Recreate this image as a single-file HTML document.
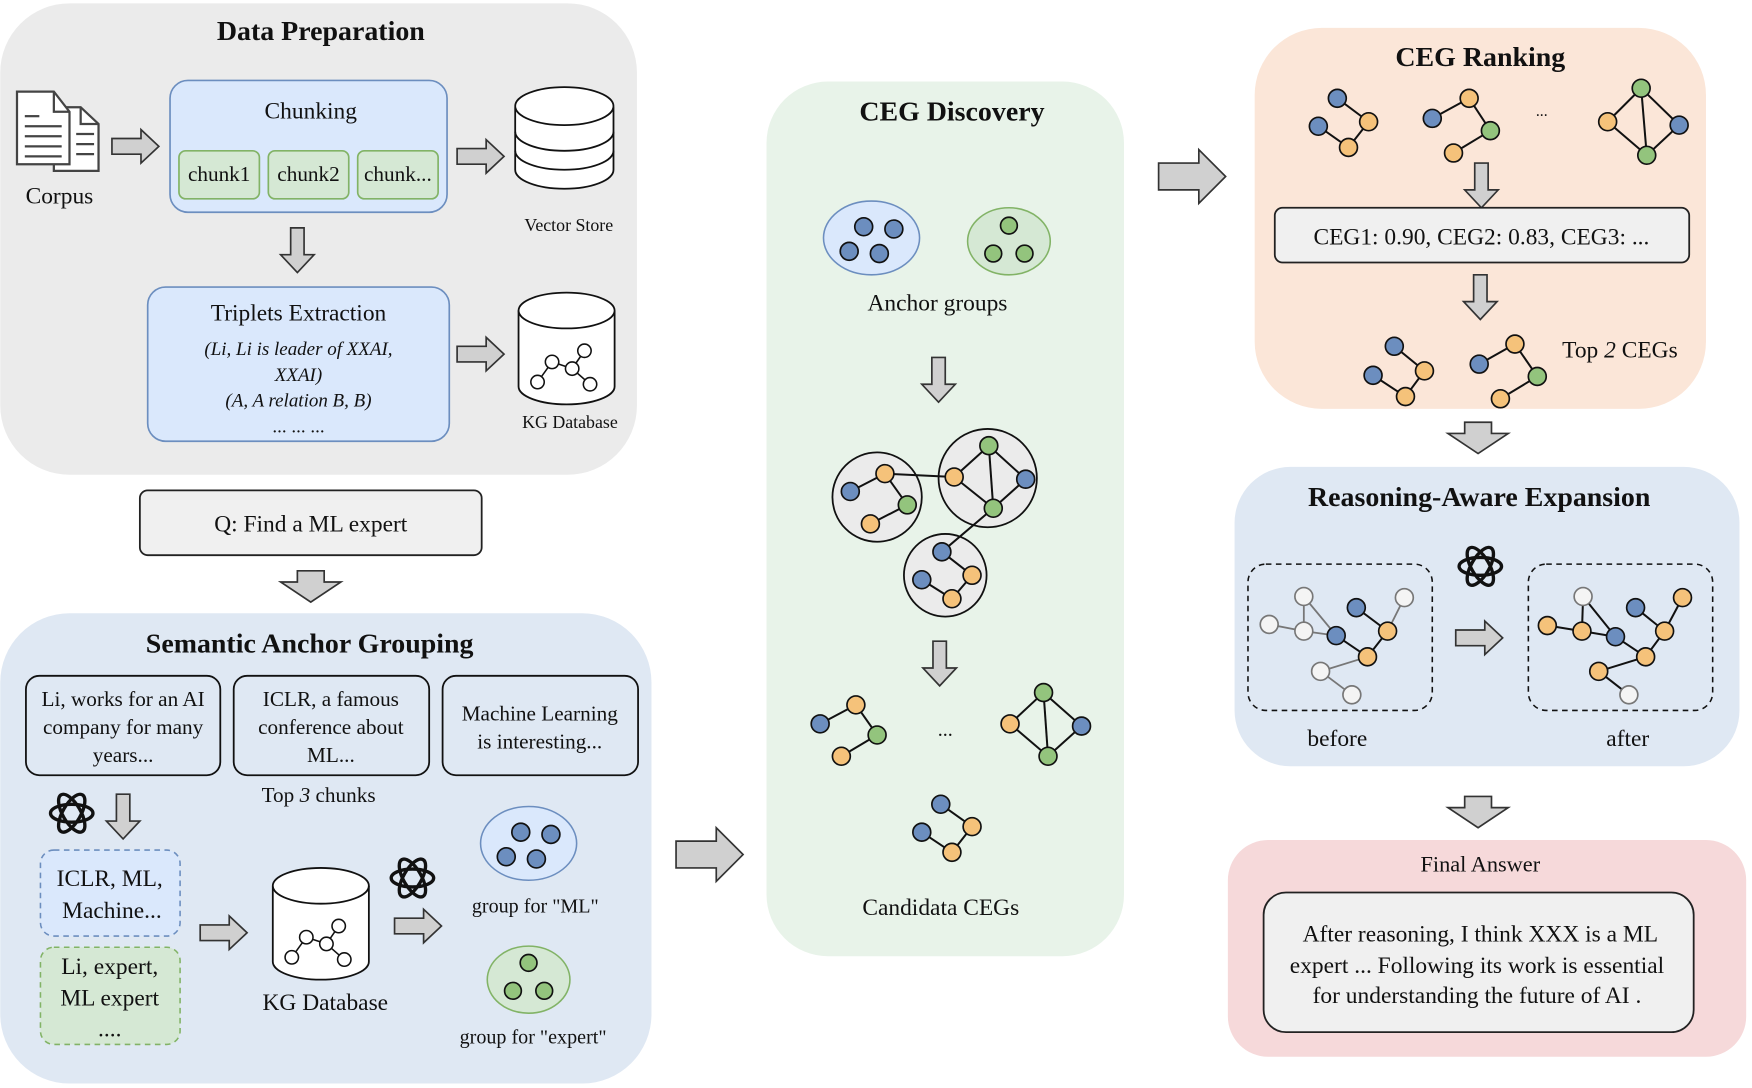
<!DOCTYPE html>
<html><head><meta charset="utf-8"><style>
html,body{margin:0;padding:0;background:#fff;}
svg{display:block;}
text{font-family:"Liberation Serif",serif;fill:#111;}
.t{font-weight:bold;font-size:25px;}
.ar{fill:#d0d0d0;stroke:#333;stroke-width:1.5;}
.e{stroke:#111;stroke-width:1.8;}
.b{fill:#6c8ebf;stroke:#111;stroke-width:1.5;}
.o{fill:#f5c27a;stroke:#111;stroke-width:1.5;}
.g{fill:#93c47d;stroke:#111;stroke-width:1.5;}
.w{fill:#f4f4f4;stroke:#777;stroke-width:1.5;}
.gp{fill:none;stroke:#111;stroke-width:3;}
</style></head><body>
<svg width="1752" height="1088" viewBox="0 0 1568 974" xmlns="http://www.w3.org/2000/svg">
<defs>
<g id="gpt"><ellipse class="gp" cx="0" cy="0" rx="19" ry="8"/><ellipse class="gp" cx="0" cy="0" rx="19" ry="8" transform="rotate(60)"/><ellipse class="gp" cx="0" cy="0" rx="19" ry="8" transform="rotate(120)"/></g>
<g id="ra"><path class="ar" d="M0,-7 L26,-7 L26,-15 L42,0 L26,15 L26,7 L0,7 Z"/></g>
<g id="da"><path class="ar" d="M-6,0 L6,0 L6,24 L15,24 L0,40 L-15,24 L-6,24 Z"/></g>
<g id="wa"><path class="ar" d="M-12,0 L12,0 L12,10 L27,10 L0,28 L-27,10 L-12,10 Z"/></g>
<g id="ba"><path class="ar" d="M0,-12 L36,-12 L36,-24 L60,0 L36,24 L36,12 L0,12 Z"/></g>
<g id="kg">
<path d="M0,16 L0,84 A43,16 0 0 0 86,84 L86,16" fill="#fff" stroke="#111" stroke-width="1.6"/>
<ellipse cx="43" cy="16" rx="43" ry="16" fill="#fff" stroke="#111" stroke-width="1.6"/>
<g stroke="#111" stroke-width="1.4" fill="#fff"><line x1="17" y1="80" x2="30" y2="62"/><line x1="30" y1="62" x2="48" y2="68"/><line x1="48" y1="68" x2="59" y2="52"/><line x1="48" y1="68" x2="64" y2="82"/>
<circle cx="17" cy="80" r="6"/><circle cx="30" cy="62" r="6"/><circle cx="48" cy="68" r="6"/><circle cx="59" cy="52" r="6"/><circle cx="64" cy="82" r="6"/></g>
</g>
</defs>

<!-- Data Preparation -->
<rect x="0" y="3" width="570" height="422" rx="62" fill="#ebebeb"/>
<text class="t" x="287" y="36" text-anchor="middle">Data Preparation</text>
<g fill="#fff" stroke="#444" stroke-width="2">
<path d="M48,96 L48,153 L88,153 L88,111 L72,96 Z"/>
<path d="M15,82 L15,147 L62,147 L62,100 L48,82 Z"/>
<path d="M48,82 L48,100 L62,100" fill="none"/>
<path d="M72,96 L72,111 L88,111" fill="none"/>
</g>
<g stroke="#444" stroke-width="2"><line x1="22" y1="104" x2="35" y2="104"/><line x1="22" y1="113" x2="55" y2="113"/><line x1="22" y1="122" x2="55" y2="122"/><line x1="22" y1="131" x2="55" y2="131"/><line x1="22" y1="140" x2="55" y2="140"/><line x1="68" y1="120" x2="84" y2="120"/><line x1="68" y1="129" x2="84" y2="129"/><line x1="68" y1="138" x2="84" y2="138"/></g>
<text x="53" y="182" font-size="21" text-anchor="middle">Corpus</text>
<use href="#ra" x="100" y="131"/>
<rect x="152" y="72" width="248" height="118" rx="16" fill="#dae8fc" stroke="#6c8ebf" stroke-width="1.5"/>
<text x="278" y="106" font-size="21" text-anchor="middle">Chunking</text>
<g fill="#d5e8d4" stroke="#82b366" stroke-width="1.5"><rect x="160" y="135" width="72" height="43" rx="6"/><rect x="240" y="135" width="72" height="43" rx="6"/><rect x="320" y="135" width="72" height="43" rx="6"/></g>
<g font-size="19" text-anchor="middle"><text x="196" y="162">chunk1</text><text x="276" y="162">chunk2</text><text x="356" y="162">chunk...</text></g>
<use href="#ra" x="409" y="140"/>
<g fill="#fff" stroke="#111" stroke-width="1.6">
<path d="M461,96 L461,152 A44,17 0 0 0 549,152 L549,96"/>
<path d="M461,135 A44,17 0 0 0 549,135" fill="none"/>
<path d="M461,118 A44,17 0 0 0 549,118" fill="none"/>
<ellipse cx="505" cy="95" rx="44" ry="17"/>
</g>
<text x="509" y="207" font-size="16" text-anchor="middle">Vector Store</text>
<use href="#da" x="266" y="204"/>
<rect x="132" y="257" width="270" height="138" rx="16" fill="#dae8fc" stroke="#6c8ebf" stroke-width="1.5"/>
<text x="267" y="287" font-size="21" text-anchor="middle">Triplets Extraction</text>
<g font-size="17" font-style="italic" text-anchor="middle"><text x="267" y="318">(Li, Li is leader of XXAI,</text><text x="267" y="341">XXAI)</text><text x="267" y="364">(A, A relation B, B)</text><text x="267" y="387" font-style="normal">... ... ...</text></g>
<use href="#ra" x="409" y="317"/>
<use href="#kg" x="464" y="262"/>
<text x="510" y="383" font-size="16" text-anchor="middle">KG Database</text>

<!-- Query -->
<rect x="125" y="439" width="306" height="58" rx="7" fill="#f0f0f0" stroke="#222" stroke-width="1.6"/>
<text x="278" y="476" font-size="21" text-anchor="middle">Q: Find a ML expert</text>
<use href="#wa" x="278" y="511"/>

<!-- Semantic Anchor Grouping -->
<rect x="0" y="549" width="583" height="421" rx="62" fill="#dfe8f3"/>
<text class="t" x="277" y="584" text-anchor="middle">Semantic Anchor Grouping</text>
<g fill="none" stroke="#111" stroke-width="1.6"><rect x="23" y="605" width="174" height="89" rx="12"/><rect x="209" y="605" width="175" height="89" rx="12"/><rect x="396" y="605" width="175" height="89" rx="12"/></g>
<g font-size="19" text-anchor="middle">
<text x="110" y="632">Li, works for an AI</text><text x="110" y="657">company for many</text><text x="110" y="682">years...</text>
<text x="296" y="632">ICLR, a famous</text><text x="296" y="657">conference about</text><text x="296" y="682">ML...</text>
<text x="483" y="645">Machine Learning</text><text x="483" y="670">is  interesting...</text>
<text x="285" y="718">Top <tspan font-style="italic">3</tspan> chunks</text>
</g>
<use href="#gpt" x="64" y="728"/>
<use href="#da" x="110" y="711"/>
<rect x="36" y="761" width="125" height="77" rx="12" fill="#dae8fc" stroke="#6c8ebf" stroke-width="1.4" stroke-dasharray="5,4"/>
<rect x="36" y="848" width="125" height="87" rx="12" fill="#d5e8d4" stroke="#82b366" stroke-width="1.4" stroke-dasharray="5,4"/>
<g font-size="21" text-anchor="middle"><text x="98" y="793">ICLR, ML,</text><text x="100" y="822">Machine...</text><text x="98" y="872">Li, expert,</text><text x="98" y="900">ML expert</text><text x="98" y="928">....</text></g>
<use href="#ra" x="179" y="835"/>
<use href="#kg" x="244" y="777"/>
<text x="291" y="904" font-size="21" text-anchor="middle">KG Database</text>
<use href="#gpt" x="369" y="786"/>
<use href="#ra" x="353" y="829"/>
<ellipse cx="473" cy="755" rx="43" ry="33" fill="#dae8fc" stroke="#6c8ebf" stroke-width="1.4"/>
<circle class="b" cx="466" cy="745" r="8"/><circle class="b" cx="493" cy="747" r="8"/><circle class="b" cx="453" cy="767" r="8"/><circle class="b" cx="480" cy="769" r="8"/>
<ellipse cx="473" cy="877" rx="37" ry="30" fill="#d5e8d4" stroke="#82b366" stroke-width="1.4"/>
<circle class="g" cx="473" cy="862" r="7.5"/><circle class="g" cx="459" cy="887" r="7.5"/><circle class="g" cx="487" cy="887" r="7.5"/>
<g font-size="18" text-anchor="middle"><text x="479" y="817">group for "ML"</text><text x="477" y="934">group for "expert"</text></g>

<use href="#ba" x="605" y="765"/>

<!-- CEG Discovery -->
<rect x="686" y="73" width="320" height="783" rx="55" fill="#e8f3e9"/>
<text class="t" x="852" y="108" text-anchor="middle">CEG Discovery</text>
<ellipse cx="780" cy="213" rx="43" ry="33" fill="#dae8fc" stroke="#6c8ebf" stroke-width="1.4"/>
<circle class="b" cx="773" cy="203" r="8"/><circle class="b" cx="800" cy="205" r="8"/><circle class="b" cx="760" cy="225" r="8"/><circle class="b" cx="787" cy="227" r="8"/>
<ellipse cx="903" cy="216" rx="37" ry="30" fill="#d5e8d4" stroke="#82b366" stroke-width="1.4"/>
<circle class="g" cx="903" cy="202" r="7.5"/><circle class="g" cx="889" cy="227" r="7.5"/><circle class="g" cx="917" cy="227" r="7.5"/>
<text x="839" y="278" font-size="21" text-anchor="middle">Anchor groups</text>
<use href="#da" x="840" y="320"/>
<g fill="#ebebeb" stroke="#111" stroke-width="1.6"><circle cx="785" cy="445" r="40"/><circle cx="884" cy="428" r="44"/><circle cx="846" cy="515" r="37"/></g>
<g class="e"><line x1="792" y1="424" x2="854" y2="427"/><line x1="889" y1="455" x2="843" y2="494"/>
<line x1="792" y1="424" x2="761" y2="440"/><line x1="792" y1="424" x2="812" y2="452"/><line x1="812" y1="452" x2="779" y2="469"/>
<line x1="885" y1="399" x2="854" y2="427"/><line x1="885" y1="399" x2="918" y2="429"/><line x1="885" y1="399" x2="889" y2="455"/><line x1="854" y1="427" x2="889" y2="455"/><line x1="918" y1="429" x2="889" y2="455"/>
<line x1="843" y1="494" x2="870" y2="515"/><line x1="870" y1="515" x2="852" y2="536"/><line x1="852" y1="536" x2="825" y2="519"/></g>
<circle class="o" cx="792" cy="424" r="8"/><circle class="b" cx="761" cy="440" r="8"/><circle class="g" cx="812" cy="452" r="8"/><circle class="o" cx="779" cy="469" r="8"/>
<circle class="g" cx="885" cy="399" r="8"/><circle class="o" cx="854" cy="427" r="8"/><circle class="b" cx="918" cy="429" r="8"/><circle class="g" cx="889" cy="455" r="8"/>
<circle class="b" cx="843" cy="494" r="8"/><circle class="o" cx="870" cy="515" r="8"/><circle class="o" cx="852" cy="536" r="8"/><circle class="b" cx="825" cy="519" r="8"/>
<use href="#da" x="841" y="574"/>
<g class="e"><line x1="766" y1="631" x2="734" y2="648"/><line x1="766" y1="631" x2="785" y2="658"/><line x1="785" y1="658" x2="753" y2="677"/>
<line x1="934" y1="620" x2="904" y2="648"/><line x1="934" y1="620" x2="968" y2="650"/><line x1="934" y1="620" x2="938" y2="677"/><line x1="904" y1="648" x2="938" y2="677"/><line x1="968" y1="650" x2="938" y2="677"/>
<line x1="842" y1="720" x2="870" y2="740"/><line x1="870" y1="740" x2="852" y2="763"/><line x1="852" y1="763" x2="825" y2="745"/></g>
<circle class="o" cx="766" cy="631" r="8"/><circle class="b" cx="734" cy="648" r="8"/><circle class="g" cx="785" cy="658" r="8"/><circle class="o" cx="753" cy="677" r="8"/>
<circle class="g" cx="934" cy="620" r="8"/><circle class="o" cx="904" cy="648" r="8"/><circle class="b" cx="968" cy="650" r="8"/><circle class="g" cx="938" cy="677" r="8"/>
<circle class="b" cx="842" cy="720" r="8"/><circle class="o" cx="870" cy="740" r="8"/><circle class="o" cx="852" cy="763" r="8"/><circle class="b" cx="825" cy="745" r="8"/>
<text x="846" y="659" font-size="18" text-anchor="middle">...</text>
<text x="842" y="819" font-size="21" text-anchor="middle">Candidata CEGs</text>

<use href="#ba" x="1037" y="158"/>

<!-- CEG Ranking -->
<rect x="1123" y="25" width="404" height="341" rx="60" fill="#fbe6d8"/>
<text class="t" x="1325" y="59" text-anchor="middle">CEG Ranking</text>
<g class="e"><line x1="1197" y1="88" x2="1225" y2="109"/><line x1="1225" y1="109" x2="1207" y2="132"/><line x1="1207" y1="132" x2="1180" y2="113"/>
<line x1="1315" y1="88" x2="1282" y2="106"/><line x1="1315" y1="88" x2="1334" y2="117"/><line x1="1334" y1="117" x2="1301" y2="137"/>
<line x1="1469" y1="79" x2="1439" y2="109"/><line x1="1469" y1="79" x2="1503" y2="112"/><line x1="1469" y1="79" x2="1474" y2="139"/><line x1="1439" y1="109" x2="1474" y2="139"/><line x1="1503" y1="112" x2="1474" y2="139"/>
<line x1="1248" y1="310" x2="1275" y2="332"/><line x1="1275" y1="332" x2="1258" y2="355"/><line x1="1258" y1="355" x2="1229" y2="336"/>
<line x1="1356" y1="308" x2="1324" y2="326"/><line x1="1356" y1="308" x2="1376" y2="337"/><line x1="1376" y1="337" x2="1343" y2="357"/></g>
<circle class="b" cx="1197" cy="88" r="8"/><circle class="o" cx="1225" cy="109" r="8"/><circle class="b" cx="1180" cy="113" r="8"/><circle class="o" cx="1207" cy="132" r="8"/>
<circle class="o" cx="1315" cy="88" r="8"/><circle class="b" cx="1282" cy="106" r="8"/><circle class="g" cx="1334" cy="117" r="8"/><circle class="o" cx="1301" cy="137" r="8"/>
<circle class="g" cx="1469" cy="79" r="8"/><circle class="o" cx="1439" cy="109" r="8"/><circle class="b" cx="1503" cy="112" r="8"/><circle class="g" cx="1474" cy="139" r="8"/>
<circle class="b" cx="1248" cy="310" r="8"/><circle class="o" cx="1275" cy="332" r="8"/><circle class="b" cx="1229" cy="336" r="8"/><circle class="o" cx="1258" cy="355" r="8"/>
<circle class="o" cx="1356" cy="308" r="8"/><circle class="b" cx="1324" cy="326" r="8"/><circle class="g" cx="1376" cy="337" r="8"/><circle class="o" cx="1343" cy="357" r="8"/>
<text x="1380" y="104" font-size="14" text-anchor="middle">...</text>
<use href="#da" x="1326" y="146"/>
<rect x="1141" y="186" width="371" height="49" rx="7" fill="#f0f0f0" stroke="#222" stroke-width="1.6"/>
<text x="1326" y="219" font-size="21" text-anchor="middle">CEG1: 0.90, CEG2: 0.83, CEG3: ...</text>
<use href="#da" x="1325" y="246"/>
<text x="1450" y="320" font-size="21" text-anchor="middle">Top <tspan font-style="italic">2</tspan> CEGs</text>
<use href="#wa" x="1323" y="378"/>

<!-- Reasoning-Aware Expansion -->
<rect x="1105" y="418" width="452" height="268" rx="50" fill="#dfe8f3"/>
<text class="t" x="1324" y="453" text-anchor="middle">Reasoning-Aware Expansion</text>
<rect x="1117" y="505" width="165" height="131" rx="16" fill="none" stroke="#111" stroke-width="1.4" stroke-dasharray="5,4"/>
<rect x="1368" y="505" width="165" height="131" rx="16" fill="none" stroke="#111" stroke-width="1.4" stroke-dasharray="5,4"/>
<g stroke="#777" stroke-width="1.6"><line x1="1167" y1="534" x2="1167" y2="565"/><line x1="1167" y1="534" x2="1196" y2="569"/><line x1="1136" y1="559" x2="1167" y2="565"/><line x1="1167" y1="565" x2="1196" y2="569"/><line x1="1242" y1="565" x2="1257" y2="535"/><line x1="1224" y1="588" x2="1182" y2="601"/><line x1="1182" y1="601" x2="1210" y2="622"/></g>
<g class="e"><line x1="1196" y1="569" x2="1224" y2="588"/><line x1="1214" y1="544" x2="1242" y2="565"/><line x1="1242" y1="565" x2="1224" y2="588"/></g>
<circle class="w" cx="1167" cy="534" r="8"/><circle class="w" cx="1136" cy="559" r="8"/><circle class="w" cx="1167" cy="565" r="8"/><circle class="b" cx="1214" cy="544" r="8"/><circle class="b" cx="1196" cy="569" r="8"/><circle class="o" cx="1242" cy="565" r="8"/><circle class="o" cx="1224" cy="588" r="8"/><circle class="w" cx="1257" cy="535" r="8"/><circle class="w" cx="1182" cy="601" r="8"/><circle class="w" cx="1210" cy="622" r="8"/>
<g class="e"><line x1="1417" y1="534" x2="1416" y2="565"/><line x1="1417" y1="534" x2="1446" y2="570"/><line x1="1385" y1="560" x2="1416" y2="565"/><line x1="1416" y1="565" x2="1446" y2="570"/><line x1="1490" y1="565" x2="1506" y2="535"/><line x1="1473" y1="588" x2="1431" y2="601"/><line x1="1431" y1="601" x2="1458" y2="622"/><line x1="1446" y1="570" x2="1473" y2="588"/><line x1="1464" y1="544" x2="1490" y2="565"/><line x1="1490" y1="565" x2="1473" y2="588"/></g>
<circle class="w" cx="1417" cy="534" r="8"/><circle class="o" cx="1385" cy="560" r="8"/><circle class="o" cx="1416" cy="565" r="8"/><circle class="b" cx="1464" cy="544" r="8"/><circle class="b" cx="1446" cy="570" r="8"/><circle class="o" cx="1490" cy="565" r="8"/><circle class="o" cx="1473" cy="588" r="8"/><circle class="o" cx="1506" cy="535" r="8"/><circle class="o" cx="1431" cy="601" r="8"/><circle class="w" cx="1458" cy="622" r="8"/>
<use href="#gpt" x="1325" y="507"/>
<use href="#ra" x="1303" y="571"/>
<g font-size="21" text-anchor="middle"><text x="1197" y="668">before</text><text x="1457" y="668">after</text></g>
<use href="#wa" x="1323" y="713"/>

<!-- Final Answer -->
<rect x="1099" y="752" width="464" height="194" rx="36" fill="#f6d9da"/>
<text x="1325" y="780" font-size="20" text-anchor="middle">Final Answer</text>
<rect x="1131" y="799" width="385" height="125" rx="20" fill="#f0f0f0" stroke="#222" stroke-width="1.6"/>
<g font-size="21" text-anchor="middle"><text x="1325" y="843">After reasoning, I think XXX is a ML</text><text x="1322" y="871">expert ... Following its work is essential</text><text x="1322" y="898">for understanding the future of AI .</text></g>
</svg>
</body></html>
